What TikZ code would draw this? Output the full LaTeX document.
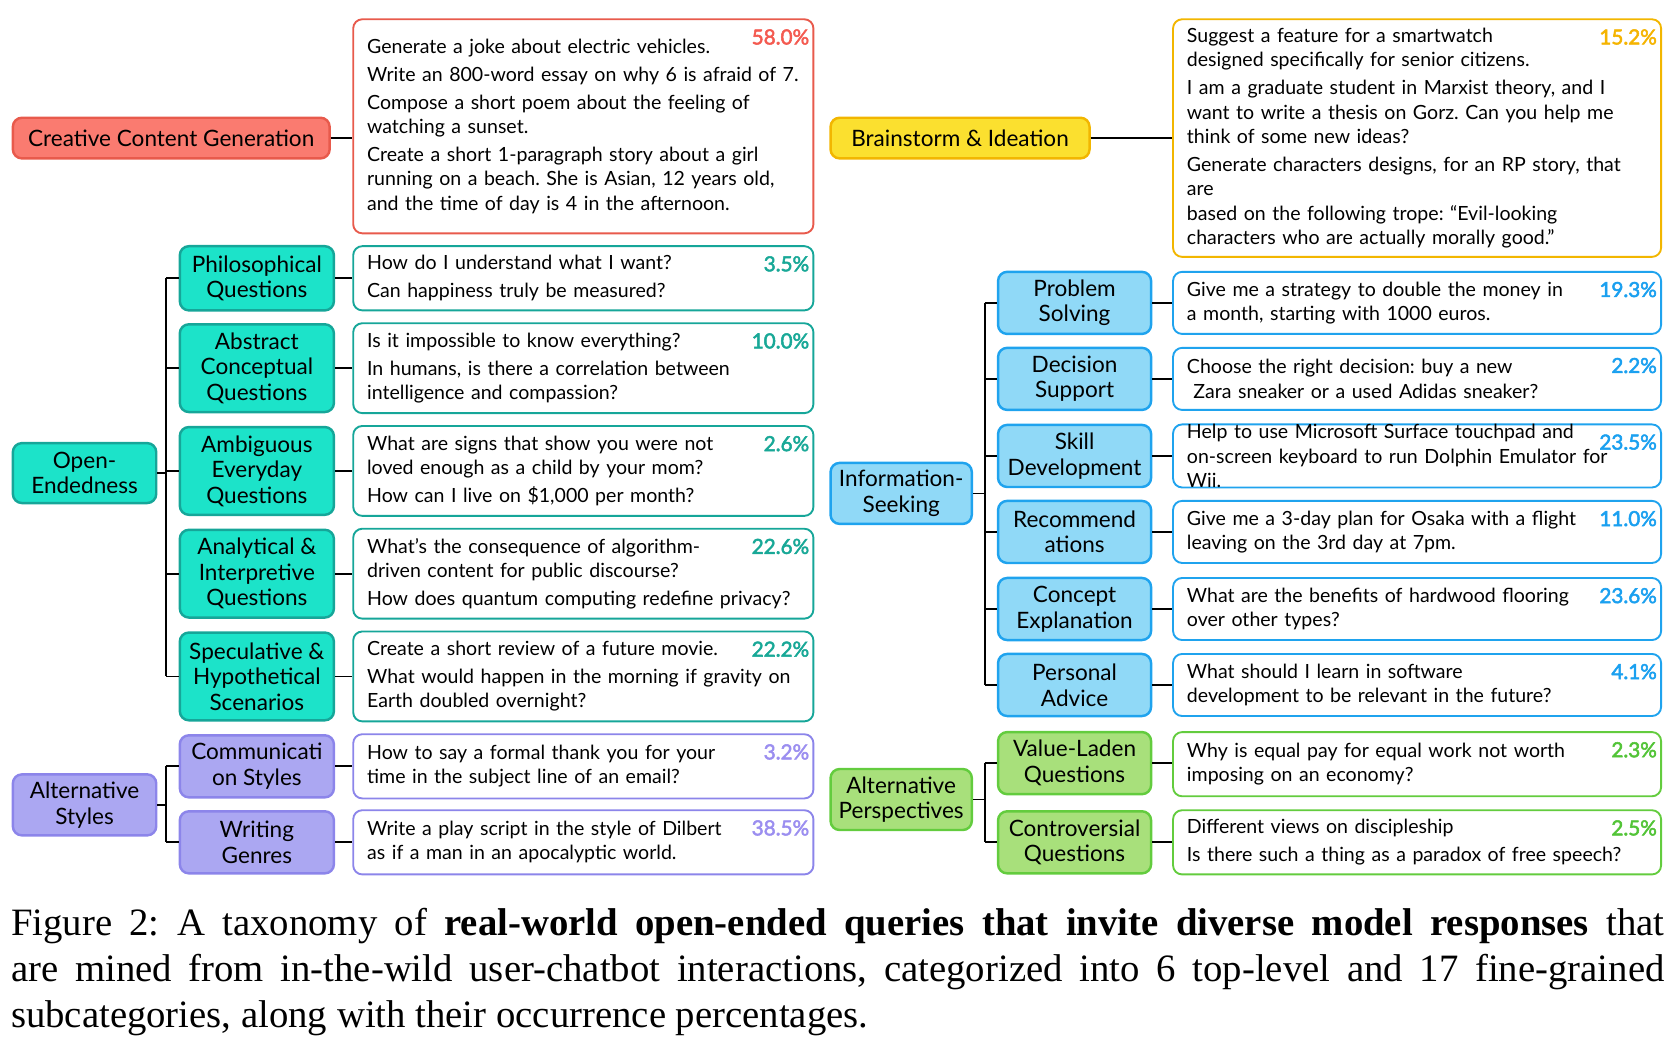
\documentclass[tikz,border=0pt]{standalone}
\usepackage{fontspec}
\setmainfont{Lato}
\newfontfamily\pctfont{Lato}[FakeBold=2.5]
\newfontfamily\capfont{Liberation Serif}
\frenchspacing
\definecolor{redF}{HTML}{FA7B70}\definecolor{redB}{HTML}{E85A4C}\definecolor{redP}{HTML}{F45A50}
\definecolor{tealF}{HTML}{1CE3C9}\definecolor{tealB}{HTML}{16A699}\definecolor{tealP}{HTML}{18A897}
\definecolor{purF}{HTML}{ABA7F2}\definecolor{purB}{HTML}{8C85EA}\definecolor{purP}{HTML}{9B8EF0}
\definecolor{yelF}{HTML}{FBE02F}\definecolor{yelB}{HTML}{F2B600}\definecolor{yelP}{HTML}{F5B400}
\definecolor{bluF}{HTML}{90D9F7}\definecolor{bluB}{HTML}{1FA3EE}\definecolor{bluP}{HTML}{1AA0F0}
\definecolor{grnF}{HTML}{A8E07B}\definecolor{grnB}{HTML}{63CC3E}\definecolor{grnP}{HTML}{52C437}
\tikzset{
 cat/.style={rounded corners=0.17cm, line width=1.3pt, align=center, inner sep=1pt,
   font=\fontsize{12}{13.6}\selectfont},
 qbox/.style={rounded corners=0.17cm, line width=1pt, fill=white, align=left, inner sep=0pt,
   font=\fontsize{10.4}{12.9}\selectfont},
 pct/.style={font=\pctfont\fontsize{11}{13}\selectfont, anchor=north east, inner sep=0pt},
 conn/.style={line width=0.9pt, black}
}
% #1 name #2 color #3 xc #4 w #5 yc #6 h #7 text #8 pct
\newcommand\qbx[8]{%
 \node[qbox, draw=#2B, minimum width={#4*0.02cm}, minimum height={#6*0.02cm}, text width={(#4-26)*0.02cm}] (#1) at (#3,#5) {\hyphenpenalty=10000\hbadness=10000\hfuzz=100pt #7};
 \node[pct, text=#2P] at ([xshift=-0.09cm,yshift=-0.2cm]#1.north east) {#8};}
% #1 name #2 color #3 xc #4 w #5 yc #6 h #7 text
\newcommand\subn[7]{%
 \node[cat, draw=#2B, fill=#2F, minimum width={#4*0.02cm}, minimum height={#6*0.02cm}] (#1) at (#3,#5) {#7};}
\begin{document}
\begin{tikzpicture}[x=0.02cm,y=-0.02cm]
\useasboundingbox (0,0) rectangle (1565,974);
% ---- Creative
\subn{cc}{red}{160}{296}{129}{38}{Creative Content Generation}
\qbx{qcc}{red}{545}{430}{118}{200}{Generate a joke about electric vehicles.\\[2pt]Write an 800-word essay on why 6 is afraid of 7.\\[2pt]Compose a short poem about the feeling of\\watching a sunset.\\[2pt]Create a short 1-paragraph story about a girl\\running on a beach. She is Asian, 12 years old,\\and the time of day is 4 in the afternoon.}{58.0\%}
\draw[conn] (cc.east) -- (qcc.west |- cc.east);
% ---- Brainstorm
\subn{bi}{yel}{897}{242}{129}{38}{Brainstorm \& Ideation}
\qbx{qbi}{yel}{1324}{456}{129}{222}{Suggest a feature for a smartwatch\\designed specifically for senior citizens.\\[2pt]I am a graduate student in Marxist theory, and I\\want to write a thesis on Gorz. Can you help me\\think of some new ideas?\\[2pt]Generate characters designs, for an RP story, that are\\based on the following trope: ``Evil-looking\\characters who are actually morally good.''}{15.2\%}
\draw[conn] (bi.east) -- (qbi.west |- bi.east);
% ---- Open-Endedness
\subn{oe}{teal}{79}{134}{442}{56}{Open-\\Endedness}
\coordinate (t1) at (155,0);
\subn{p1}{teal}{240}{144}{260}{60}{Philosophical\\Questions}
\subn{p2}{teal}{240}{144}{344}{82}{Abstract\\Conceptual\\Questions}
\subn{p3}{teal}{240}{144}{440}{82}{Ambiguous\\Everyday\\Questions}
\subn{p4}{teal}{240}{144}{536}{82}{Analytical \&\\Interpretive\\Questions}
\subn{p5}{teal}{240}{144}{632}{82}{Speculative \&\\Hypothetical\\Scenarios}
\qbx{q1}{teal}{545}{430}{260}{60}{How do I understand what I want?\\[2pt]Can happiness truly be measured?}{3.5\%}
\qbx{q2}{teal}{545}{430}{344}{84}{Is it impossible to know everything?\\[2pt]In humans, is there a correlation between\\intelligence and compassion?}{10.0\%}
\qbx{q3}{teal}{545}{430}{440}{84}{What are signs that show you were not\\loved enough as a child by your mom?\\[2pt]How can I live on \$1,000 per month?}{2.6\%}
\qbx{q4}{teal}{545}{430}{536}{84}{What's the consequence of algorithm-\\driven content for public discourse?\\[2pt]How does quantum computing redefine privacy?}{22.6\%}
\qbx{q5}{teal}{545}{430}{632}{84}{Create a short review of a future movie.\\[2pt]What would happen in the morning if gravity on\\Earth doubled overnight?}{22.2\%}
\draw[conn] (oe.east) -- (oe.east -| t1);
\draw[conn] (p1.west -| t1) -- (p5.west -| t1);
\foreach \i in {1,...,5}{
 \draw[conn] (p\i.west -| t1) -- (p\i.west);
 \draw[conn] (p\i.east) -- (q\i.west |- p\i.east);}
% ---- Alternative Styles
\subn{as}{pur}{79}{134}{752}{57}{Alternative\\Styles}
\coordinate (t2) at (155,0);
\subn{s1}{pur}{240}{144}{716}{58}{Communicati\\on Styles}
\subn{s2}{pur}{240}{144}{787}{58}{Writing\\Genres}
\qbx{r1}{pur}{545}{430}{716}{60}{How to say a formal thank you for your\\time in the subject line of an email?}{3.2\%}
\qbx{r2}{pur}{545}{430}{787}{60}{Write a play script in the style of Dilbert\\as if a man in an apocalyptic world.}{38.5\%}
\draw[conn] (as.east) -- (as.east -| t2);
\draw[conn] (s1.west -| t2) -- (s2.west -| t2);
\foreach \i in {1,2}{
 \draw[conn] (s\i.west -| t2) -- (s\i.west);
 \draw[conn] (s\i.east) -- (r\i.west |- s\i.east);}
% ---- Information Seeking
\subn{is}{blu}{842}{132}{461}{57}{Information-\\Seeking}
\coordinate (t3) at (920,0);
\subn{b1}{blu}{1004}{143}{283}{58}{Problem\\Solving}
\subn{b2}{blu}{1004}{143}{354}{58}{Decision\\Support}
\subn{b3}{blu}{1004}{143}{426}{58}{Skill\\Development}
\subn{b4}{blu}{1004}{143}{497}{58}{Recommend\\ations}
\subn{b5}{blu}{1004}{143}{569}{58}{Concept\\Explanation}
\subn{b6}{blu}{1004}{143}{640}{58}{Personal\\Advice}
\qbx{c1}{blu}{1324}{456}{283}{58}{Give me a strategy to double the money in\\a month, starting with 1000 euros.}{19.3\%}
\qbx{c2}{blu}{1324}{456}{354}{58}{Choose the right decision: buy a new\\\ Zara sneaker or a used Adidas sneaker?}{2.2\%}
\qbx{c3}{blu}{1324}{456}{426}{58}{Help to use Microsoft Surface touchpad and\\on-screen keyboard to run Dolphin Emulator for Wii.}{23.5\%}
\qbx{c4}{blu}{1324}{456}{497}{58}{Give me a 3-day plan for Osaka with a flight\\leaving on the 3rd day at 7pm.}{11.0\%}
\qbx{c5}{blu}{1324}{456}{569}{58}{What are the benefits of hardwood flooring\\over other types?}{23.6\%}
\qbx{c6}{blu}{1324}{456}{640}{58}{What should I learn in software\\development to be relevant in the future?}{4.1\%}
\draw[conn] (is.east) -- (is.east -| t3);
\draw[conn] (b1.west -| t3) -- (b6.west -| t3);
\foreach \i in {1,...,6}{
 \draw[conn] (b\i.west -| t3) -- (b\i.west);
 \draw[conn] (b\i.east) -- (c\i.west |- b\i.east);}
% ---- Alternative Perspectives
\subn{ap}{grn}{842}{132}{747}{57}{Alternative\\Perspectives}
\coordinate (t4) at (920,0);
\subn{g1}{grn}{1004}{143}{713}{58}{Value-Laden\\Questions}
\subn{g2}{grn}{1004}{143}{787}{58}{Controversial\\Questions}
\qbx{h1}{grn}{1324}{456}{714}{60}{Why is equal pay for equal work not worth\\imposing on an economy?}{2.3\%}
\qbx{h2}{grn}{1324}{456}{787}{60}{Different views on discipleship\\[2pt]Is there such a thing as a paradox of free speech?}{2.5\%}
\draw[conn] (ap.east) -- (ap.east -| t4);
\draw[conn] (g1.west -| t4) -- (g2.west -| t4);
\foreach \i in {1,2}{
 \draw[conn] (g\i.west -| t4) -- (g\i.west);
 \draw[conn] (g\i.east) -- (h\i.west |- g\i.east);}
% ---- Caption
\node[anchor=north west, inner sep=0pt, text width=30.9cm, align=justify,
  font=\capfont\fontsize{20.6}{24.4}\selectfont] (cap) at (10,848) {Figure 2: A taxonomy of \textbf{real-world open-ended queries that invite diverse model responses} that\linebreak are mined from in-the-wild user-chatbot interactions, categorized into 6 top-level and 17 fine-grained\linebreak subcategories, along with their occurrence percentages.};
\end{tikzpicture}
\end{document}
